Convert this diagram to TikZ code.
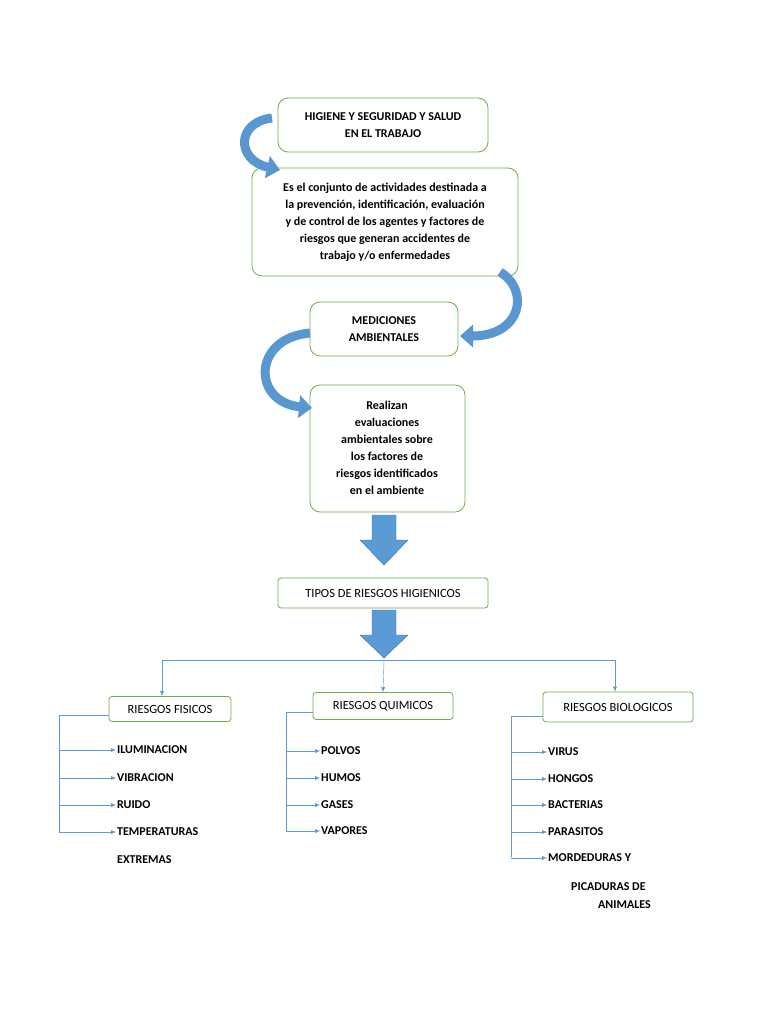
\documentclass[tikz,border=0pt]{standalone}
\usepackage{fontspec}
\setmainfont{Carlito}
\usetikzlibrary{arrows.meta}
\definecolor{boxgreen}{RGB}{112,173,71}
\definecolor{arrowblue}{RGB}{91,155,213}
\definecolor{darkblue}{RGB}{65,113,156}
\begin{document}
\begin{tikzpicture}[
  x=1pt, y=-1pt,
  box/.style={draw=boxgreen, thick, rounded corners=10pt, align=center, font=\bfseries\fontsize{12}{17}\selectfont},
  sbox/.style={draw=boxgreen, thick, rounded corners=3pt, align=center, font=\fontsize{12.5}{14}\selectfont},
  item/.style={anchor=west, font=\bfseries\fontsize{12}{14}\selectfont, inner sep=1pt},
  curved/.style={line width=9pt, arrowblue!90!darkblue, -{Triangle[width=22pt,length=13pt]}},
  bigarrow/.style={fill=arrowblue, draw=darkblue, thin},
  branch/.style={arrowblue, thin, -{Latex[length=5pt,width=4pt]}},
  link/.style={arrowblue, thin}
]
  \useasboundingbox[fill=white] (0,0) rectangle (768,1024);

  % main boxes
  \path[box] (278,98) rectangle (488,152);
  \node[box, draw=none] (hig) at (383,125) {HIGIENE Y SEGURIDAD Y SALUD\\EN EL TRABAJO};
  \path[box] (252,168) rectangle (518,276);
  \node[box, draw=none] (def) at (385,222) {Es el conjunto de actividades destinada a\\la prevención, identificación, evaluación\\y de control de los agentes y factores de\\riesgos que generan accidentes de\\trabajo y/o enfermedades};
  \path[box] (310,302) rectangle (458,356);
  \node[box, draw=none] (med) at (384,329) {MEDICIONES\\AMBIENTALES};
  \path[box] (310,385) rectangle (465,512);
  \node[box, draw=none] (rea) at (387,448) {Realizan\\evaluaciones\\ambientales sobre\\los factores de\\riesgos identificados\\en el ambiente};

  % curved arrows
  \draw[curved] (272,118) .. controls (236,122) and (236,160) .. (280,170);
  \draw[curved] (500,272) .. controls (530,290) and (522,336) .. (460,336);
  \draw[curved] (310,333) .. controls (252,338) and (252,402) .. (312,408);

  % block arrows
  \path[bigarrow] (372,515) -- (396,515) -- (396,540) -- (408,540) -- (384,565) -- (360,540) -- (372,540) -- cycle;
  \node[sbox, minimum width=210pt, minimum height=30pt] (tip) at (383,593) {TIPOS DE RIESGOS HIGIENICOS};
  \path[bigarrow] (372,610) -- (396,610) -- (396,635) -- (408,635) -- (384,658) -- (360,635) -- (372,635) -- cycle;

  % category boxes
  \node[sbox, minimum width=122pt, minimum height=25pt] (fis) at (170,709) {RIESGOS FISICOS};
  \node[sbox, minimum width=140pt, minimum height=27pt] (qui) at (383,706) {RIESGOS QUIMICOS};
  \node[sbox, minimum width=150pt, minimum height=30pt] (bio) at (618,707) {RIESGOS BIOLOGICOS};

  \coordinate (fork) at (384,660);
  \draw[link] (162,660) -- (615,660);
  \draw[branch] (162,660) -- (fis.north -| 162,0);
  \draw[branch] (fork) -- (qui.north);
  \draw[branch] (615,660) -- (bio.north -| 615,0);

  % physical risks
  \draw[link] (fis.west |- 0,715) -- (59,715) -- (59,833);
  \foreach \y/\t in {750/ILUMINACION, 778/VIBRACION, 805/RUIDO, 832/TEMPERATURAS} {
    \node[item] (f\y) at (116,\y) {\t};
    \draw[branch] (59,\y) -- (f\y.west);
  }
  \node[item] (fext) at (116,860) {EXTREMAS};

  % chemical risks
  \draw[link] (qui.west |- 0,712) -- (286,712) -- (286,831);
  \foreach \y/\t in {751/POLVOS, 778/HUMOS, 805/GASES, 831/VAPORES} {
    \node[item] (q\y) at (320,\y) {\t};
    \draw[branch] (286,\y) -- (q\y.west);
  }

  % biological risks
  \draw[link] (bio.west |- 0,716) -- (511,716) -- (511,857);
  \foreach \y/\t in {752/VIRUS, 779/HONGOS, 805/BACTERIAS, 832/PARASITOS, 858/MORDEDURAS Y} {
    \node[item] (b\y) at (547,\y) {\t};
    \draw[branch] (511,\y) -- (b\y.west);
  }
  \node[item] (bpic) at (570,887) {PICADURAS DE};
  \node[item] (bani) at (597,905) {ANIMALES};
\end{tikzpicture}
\end{document}
